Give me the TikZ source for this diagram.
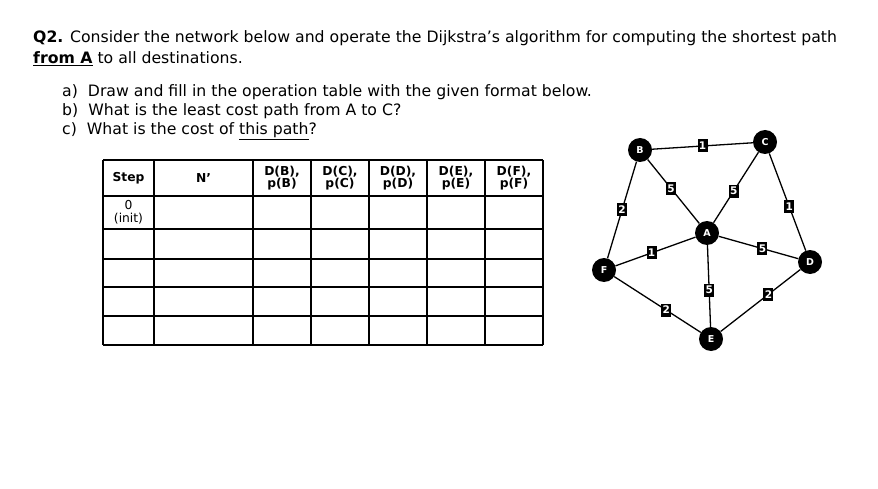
\documentclass[tikz,border=0pt]{standalone}
\usepackage{fontspec}
\setmainfont{DejaVu Sans}
\usetikzlibrary{calc}
\begin{document}
\begin{tikzpicture}[x=1pt,y=-1pt,
  vert/.style={circle,fill=black,text=white,inner sep=0pt,minimum size=24pt,font=\fontsize{9.5}{10}\selectfont\bfseries},
  wt/.style={fill=black,text=white,inner sep=1pt,minimum width=10pt,minimum height=13pt,font=\fontsize{10.5}{11}\selectfont\bfseries},
  edge/.style={line width=1.3pt},
  txt/.style={anchor=base west,inner sep=0pt,font=\fontsize{15.7}{17}\selectfont},
  hd/.style={align=center,inner sep=0pt,font=\fontsize{12.3}{12.5}\selectfont\bfseries},
  cell/.style={align=center,inner sep=0pt,font=\fontsize{12.3}{13}\selectfont}]
\useasboundingbox (0,0) rectangle (878,489);
% text
\node[txt] (q1) at (33,43) {\textbf{Q2.} Consider the network below and operate the Dijkstra’s algorithm for computing the shortest path};
\node[txt] (q2) at (33,64) {\underline{\textbf{from A}} to all destinations.};
\node[txt] (qa) at (62,97) {a)\hspace{10pt}Draw and fill in the operation table with the given format below.};
\node[txt] (qb) at (62,116) {b)\hspace{10pt}What is the least cost path from A to C?};
\node[txt] (qc) at (62,135) {c)\hspace{10pt}What is the cost of \underline{this path}?};
% table
\foreach \x in {103,154,253,311,369,427,485,543} \draw[line width=1.3pt] (\x,160) -- (\x,345);
\foreach \y in {160,196,229,259,287,316,345} \draw[line width=1.3pt] (103,\y) -- (543,\y);
\node[hd] (h1) at (128.5,178) {Step};
\node[hd] (h2) at (203.5,178) {N'};
\node[hd] (h3) at (282,178) {D(B),\\p(B)};
\node[hd] (h4) at (340,178) {D(C),\\p(C)};
\node[hd] (h5) at (398,178) {D(D),\\p(D)};
\node[hd] (h6) at (456,178) {D(E),\\p(E)};
\node[hd] (h7) at (514,178) {D(F),\\p(F)};
\node[cell] (s0) at (128.5,212.5) {0\\(init)};
% graph
\node[vert] (B) at (640,150) {B};
\node[vert] (C) at (765,142) {C};
\node[vert] (A) at (707,233) {A};
\node[vert] (D) at (810,262) {D};
\node[vert] (F) at (604,270) {F};
\node[vert] (E) at (711,339) {E};
\draw[edge] (B) -- node[wt]{1} (C);
\draw[edge] (B) -- node[wt,pos=0.45]{5} (A);
\draw[edge] (C) -- node[wt,pos=0.55]{5} (A);
\draw[edge] (C) -- node[wt,pos=0.55]{1} (D);
\draw[edge] (B) -- node[wt]{2} (F);
\draw[edge] (A) -- node[wt,pos=0.55]{1} (F);
\draw[edge] (A) -- node[wt,pos=0.55]{5} (D);
\draw[edge] (A) -- node[wt,pos=0.55]{5} (E);
\draw[edge] (F) -- node[wt,pos=0.6]{2} (E);
\draw[edge] (D) -- node[wt,pos=0.4]{2} (E);
\end{tikzpicture}
\end{document}
